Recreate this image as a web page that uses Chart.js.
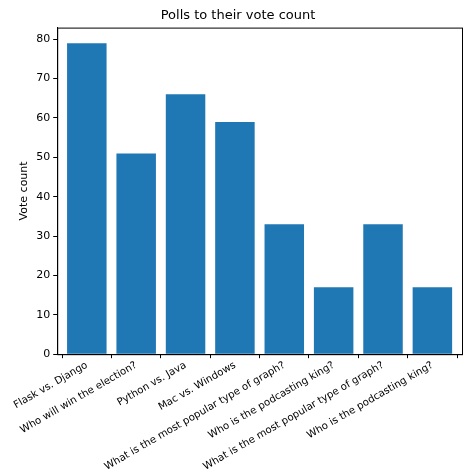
<!DOCTYPE html>
<html><head><script src="https://cdn.jsdelivr.net/npm/chart.js"></script>
<style>html,body{margin:0;padding:0;background:#fff}#w{width:474px;height:474px}</style></head>
<body><div id="w"><canvas id="c"></canvas></div>
<script>
const categories = ["Flask vs. Django","Who will win the election?","Python vs. Java","Mac vs. Windows","What is the most popular type of graph?","Who is the podcasting king?","What is the most popular type of graph?","Who is the podcasting king?"];
const votes = [79, 51, 66, 59, 33, 17, 33, 17];
const yTicks = [0,10,20,30,40,50,60,70,80];
Chart.defaults.font.family = "DejaVu Sans";
Chart.defaults.color = "#000";
const frame = {id:'frame', afterDraw(ch){const a=ch.chartArea,x=ch.ctx;x.save();x.strokeStyle='#000';x.lineWidth=1;x.strokeRect(a.left+0.5,a.top+0.5,a.right-a.left,a.bottom-a.top);x.restore();}};
new Chart(document.getElementById('c'), {
  type:'bar',
  data:{datasets:[{data:votes.map((v,i)=>({x:i,y:v})), backgroundColor:'#1f77b4', borderWidth:0, categoryPercentage:1, barPercentage:0.8}]},
  options:{responsive:true, maintainAspectRatio:false, animation:false,
    layout:{padding:{top:4,right:12,left:14,bottom:0}},
    plugins:{legend:{display:false}, tooltip:{enabled:false},
      title:{display:true, text:'Polls to their vote count', font:{size:13, weight:'normal'}, padding:{top:4,bottom:4}}},
    scales:{
      x:{type:'linear', min:-0.6, max:7.6, offset:false,
        afterBuildTicks(s){s.ticks=categories.map((c,i)=>({value:i}));},
        grid:{drawOnChartArea:false, drawTicks:true, tickLength:4, color:'#000'}, border:{color:'#000'},
        ticks:{maxRotation:30, minRotation:30, autoSkip:false, font:{size:10.2}, padding:1, callback:(v)=>categories[v]}},
      y:{min:0, max:82.95, afterBuildTicks(s){s.ticks=yTicks.map(v=>({value:v}));},
        grid:{drawOnChartArea:false, drawTicks:true, tickLength:4, color:'#000'}, border:{color:'#000'},
        ticks:{font:{size:11}, padding:3},
        title:{display:true, text:'Vote count', font:{size:11}, padding:{bottom:2}}}
    }},
  plugins:[frame]
});
</script></body></html>
